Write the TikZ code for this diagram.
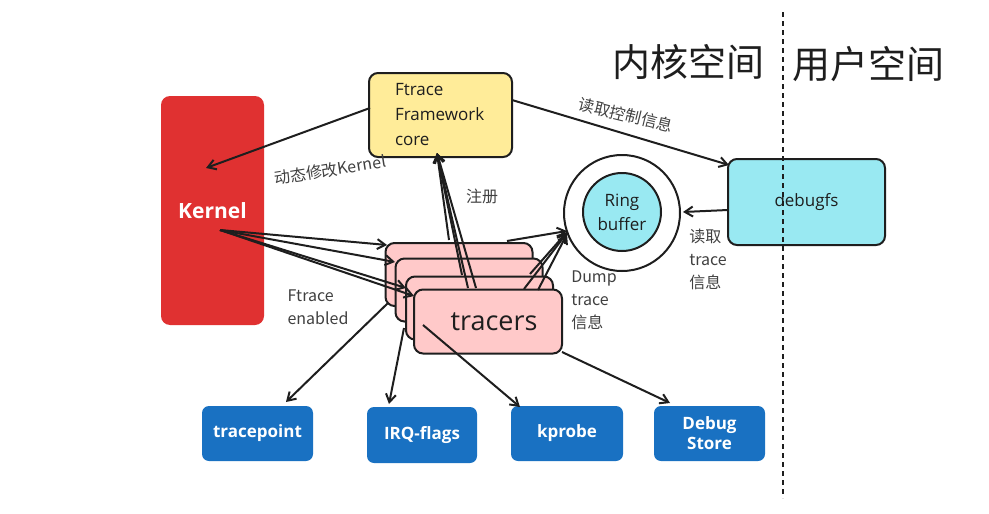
\documentclass[tikz,border=0pt]{standalone}
\usepackage{fontspec}
\setmainfont{Open Sans}
\newfontfamily\cjk{Noto Sans CJK SC}
\usetikzlibrary{arrows.meta}
\definecolor{kred}{HTML}{E03131}
\definecolor{fyel}{HTML}{FFEC99}
\definecolor{dcyan}{HTML}{99E9F2}
\definecolor{tpink}{HTML}{FFC9C9}
\definecolor{bblue}{HTML}{1971C2}
\definecolor{ink}{HTML}{1E1E1E}
\begin{document}
\begin{tikzpicture}[x=1pt,y=-1pt,
 arr/.style={draw=ink,line width=2pt,-{Straight Barb[length=8pt,width=10pt]}},
 box/.style={draw=ink,line width=2pt,rounded corners=9pt,align=left,inner sep=0},
 blu/.style={fill=bblue,rounded corners=7pt,text=white,font=\fontsize{17}{20}\selectfont\bfseries,align=center},
 tr/.style={box,fill=tpink},
 lab/.style={text=ink!85,font=\fontsize{16}{23}\selectfont\cjk,align=left}]
\useasboundingbox (0,0) rectangle (989,514);
\node[fill=kred,rounded corners=9pt,minimum width=103,minimum height=229,text=white,font=\fontsize{21}{24}\selectfont\bfseries] (kernel) at (212.5,210.5) {Kernel};
\node[box,fill=fyel,minimum width=143,minimum height=84,font=\fontsize{17}{25}\selectfont,text=ink,text width=91] (ftrace) at (440.5,115) {Ftrace\\Framework\\core};
\node[box,fill=dcyan,minimum width=157,minimum height=86,font=\fontsize{17}{20}\selectfont,text=ink,align=center] (debugfs) at (806.5,202) {debugfs};
\node[draw=ink,line width=2pt,circle,minimum size=116] (ringo) at (622,213) {};
\node[draw=ink,line width=2pt,fill=dcyan,circle,minimum size=78,align=center,font=\fontsize{17}{24}\selectfont,text=ink] (ring) at (622,212) {Ring\\buffer};
\node[tr,minimum width=147,minimum height=63] (t1) at (459,274.5) {};
\node[tr,minimum width=147,minimum height=63] (t2) at (469,290) {};
\node[tr,minimum width=147,minimum height=63] (t3) at (479.5,308) {};
\node[tr,minimum width=148,minimum height=64,font=\fontsize{27}{30}\selectfont,text=ink,align=center] (t4) at (488,321.5) {\hspace*{12pt}tracers};
\node[blu,minimum width=111,minimum height=55] (tp) at (257.5,433.5) {tracepoint};
\node[blu,minimum width=110,minimum height=56] (irq) at (422,435) {IRQ-flags};
\node[blu,minimum width=112,minimum height=55] (kp) at (567,433.5) {kprobe};
\node[blu,minimum width=111,minimum height=55] (ds) at (709.5,433.5) {Debug\\Store};
\draw[ink,line width=2pt,dash pattern=on 5pt off 4pt] (783,12) coordinate (dtop) -- (783,498) coordinate (dbot);
\node[font=\fontsize{38}{40}\selectfont\cjk,text=ink] (kspace) at (688,62) {内核空间};
\node[font=\fontsize{38}{40}\selectfont\cjk,text=ink] (uspace) at (868,64) {用户空间};
% arrows
\coordinate (fa) at (370,108);
\coordinate (ka) at (206,168);
\draw[arr] (fa) -- (ka);
\coordinate (fb) at (512,100);
\coordinate (db) at (729,165);
\draw[arr] (fb) -- (db);
\coordinate (dc) at (728,210);
\coordinate (rc) at (683,212);
\draw[arr] (dc) -- (rc);
\coordinate (ks) at (220,230);
\draw[arr] (ks) -- (387,245);
\draw[arr] (ks) -- (395,262);
\draw[arr] (ks) -- (406,288);
\draw[arr] (ks) -- (414,296);
\draw[arr] (449,240) -- (437,153);
\draw[arr] (462,275) -- (437,153);
\draw[arr] (468,288) -- (437,153);
\draw[arr] (476,288) -- (437,153);
\draw[arr] (507,241) -- (567,231);
\draw[arr] (530,274) -- (567,232);
\draw[arr] (524,289) -- (567,233);
\draw[arr] (538,290) -- (567,234);
\draw[arr] (388,303) -- (286,402);
\draw[arr] (404,328) -- (389,404);
\draw[arr] (423,325) -- (520,407);
\draw[arr] (562,352) -- (670,403);
% labels
\node[lab,rotate=-14] (l1) at (626,115) {读取控制信息};
\node[lab,rotate=9] (l2) at (330,170) {动态修改Kernel};
\node[lab] (l3) at (482,196) {注册};
\node[lab] (l4) at (318,307) {Ftrace\\enabled};
\node[lab] (l5) at (594,300) {Dump\\trace\\信息};
\node[lab] (l6) at (708,259) {读取\\trace\\信息};
\end{tikzpicture}
\end{document}
